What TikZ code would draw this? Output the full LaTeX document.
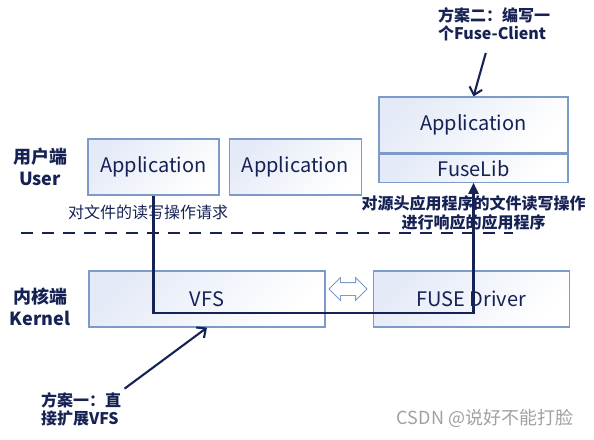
\documentclass[tikz,border=0pt]{standalone}
\usepackage{fontspec}
\setmainfont{Noto Sans CJK SC}
\usepackage{tikz}
\usetikzlibrary{shapes.arrows,arrows.meta,positioning}

\definecolor{navy}{RGB}{22,34,84}
\definecolor{boxline}{RGB}{125,155,200}
\definecolor{boxfill}{RGB}{228,234,247}
\definecolor{markgray}{RGB}{160,160,160}

\begin{document}
\begin{tikzpicture}[x=1pt, y=-1pt, font=\fontsize{16}{18}\selectfont,
    layer/.style={rectangle, draw=boxline, line width=1.2pt, top color=boxfill, bottom color=white, shading angle=45, text=navy, minimum height=56pt, inner sep=0pt, font=\fontsize{20}{24}\selectfont},
    side/.style={text=navy, align=center, font=\bfseries\fontsize{18}{22}\selectfont},
    note/.style={text=navy, align=center},
    plan/.style={text=navy, align=left, font=\bfseries\fontsize{16}{18}\selectfont},
    wire/.style={navy, line width=2.1pt}]

    \useasboundingbox (0,0) rectangle (594,439);

    % user side
    \node[side] (user) at (40,167) {用户端\\User};
    \node[layer, minimum width=131pt] (app1) at (153.5,167) {Application};
    \node[layer, minimum width=132pt, right=9pt of app1] (app2) {Application};
    \node[layer, minimum width=189pt] (fapp) at (473.5,125) {Application};
    \node[layer, minimum width=189pt, minimum height=28pt, below=0pt of fapp] (flib) {FuseLib};

    % kernel side
    \node[side] (kern) at (40,307) {内核端\\Kernel};
    \node[layer, minimum width=236pt] (vfs) at (207,299) {VFS};
    \node[layer, minimum width=196pt, right=47pt of vfs] (fdrv) {FUSE Driver};
    \node[double arrow, draw=boxline, fill=white, line width=0.8pt, minimum height=38pt, minimum width=22pt, double arrow head extend=5pt, inner xsep=0pt, inner ysep=6pt] (link) at (348,289) {};

    \draw[navy, line width=1.8pt, dash pattern=on 12pt off 9pt] (21,233) -- (513,233);

    \node[note] (req) at (148,212) {对文件的读写操作请求};
    \node[note, font=\bfseries\fontsize{16}{19}\selectfont] (resp) at (473.5,212.5) {对源头应用程序的文件读写操作\\进行响应的应用程序};

    \coordinate (bend) at (153.5,313);
    \draw[wire, -{Triangle[length=11pt,width=10pt]}] (app1.south) -- (bend) -| (flib.south);

    % the two plans
    \node[plan] (p2) at (494,24) {方案二：编写一\\个Fuse-Client};
    \node[plan] (p1) at (81,409) {方案一：直\\接扩展VFS};
    \draw[wire, -{Straight Barb[length=7pt,width=13pt]}, shorten <=9pt] (p2) -- (fapp.north);
    \draw[wire, -{Straight Barb[length=7pt,width=13pt]}] (p1.north east) -- (vfs.south);

    \node[text=markgray, font=\fontsize{18}{20}\selectfont] (mark) at (485,418) {CSDN @说好不能打脸};

\end{tikzpicture}
\end{document}
